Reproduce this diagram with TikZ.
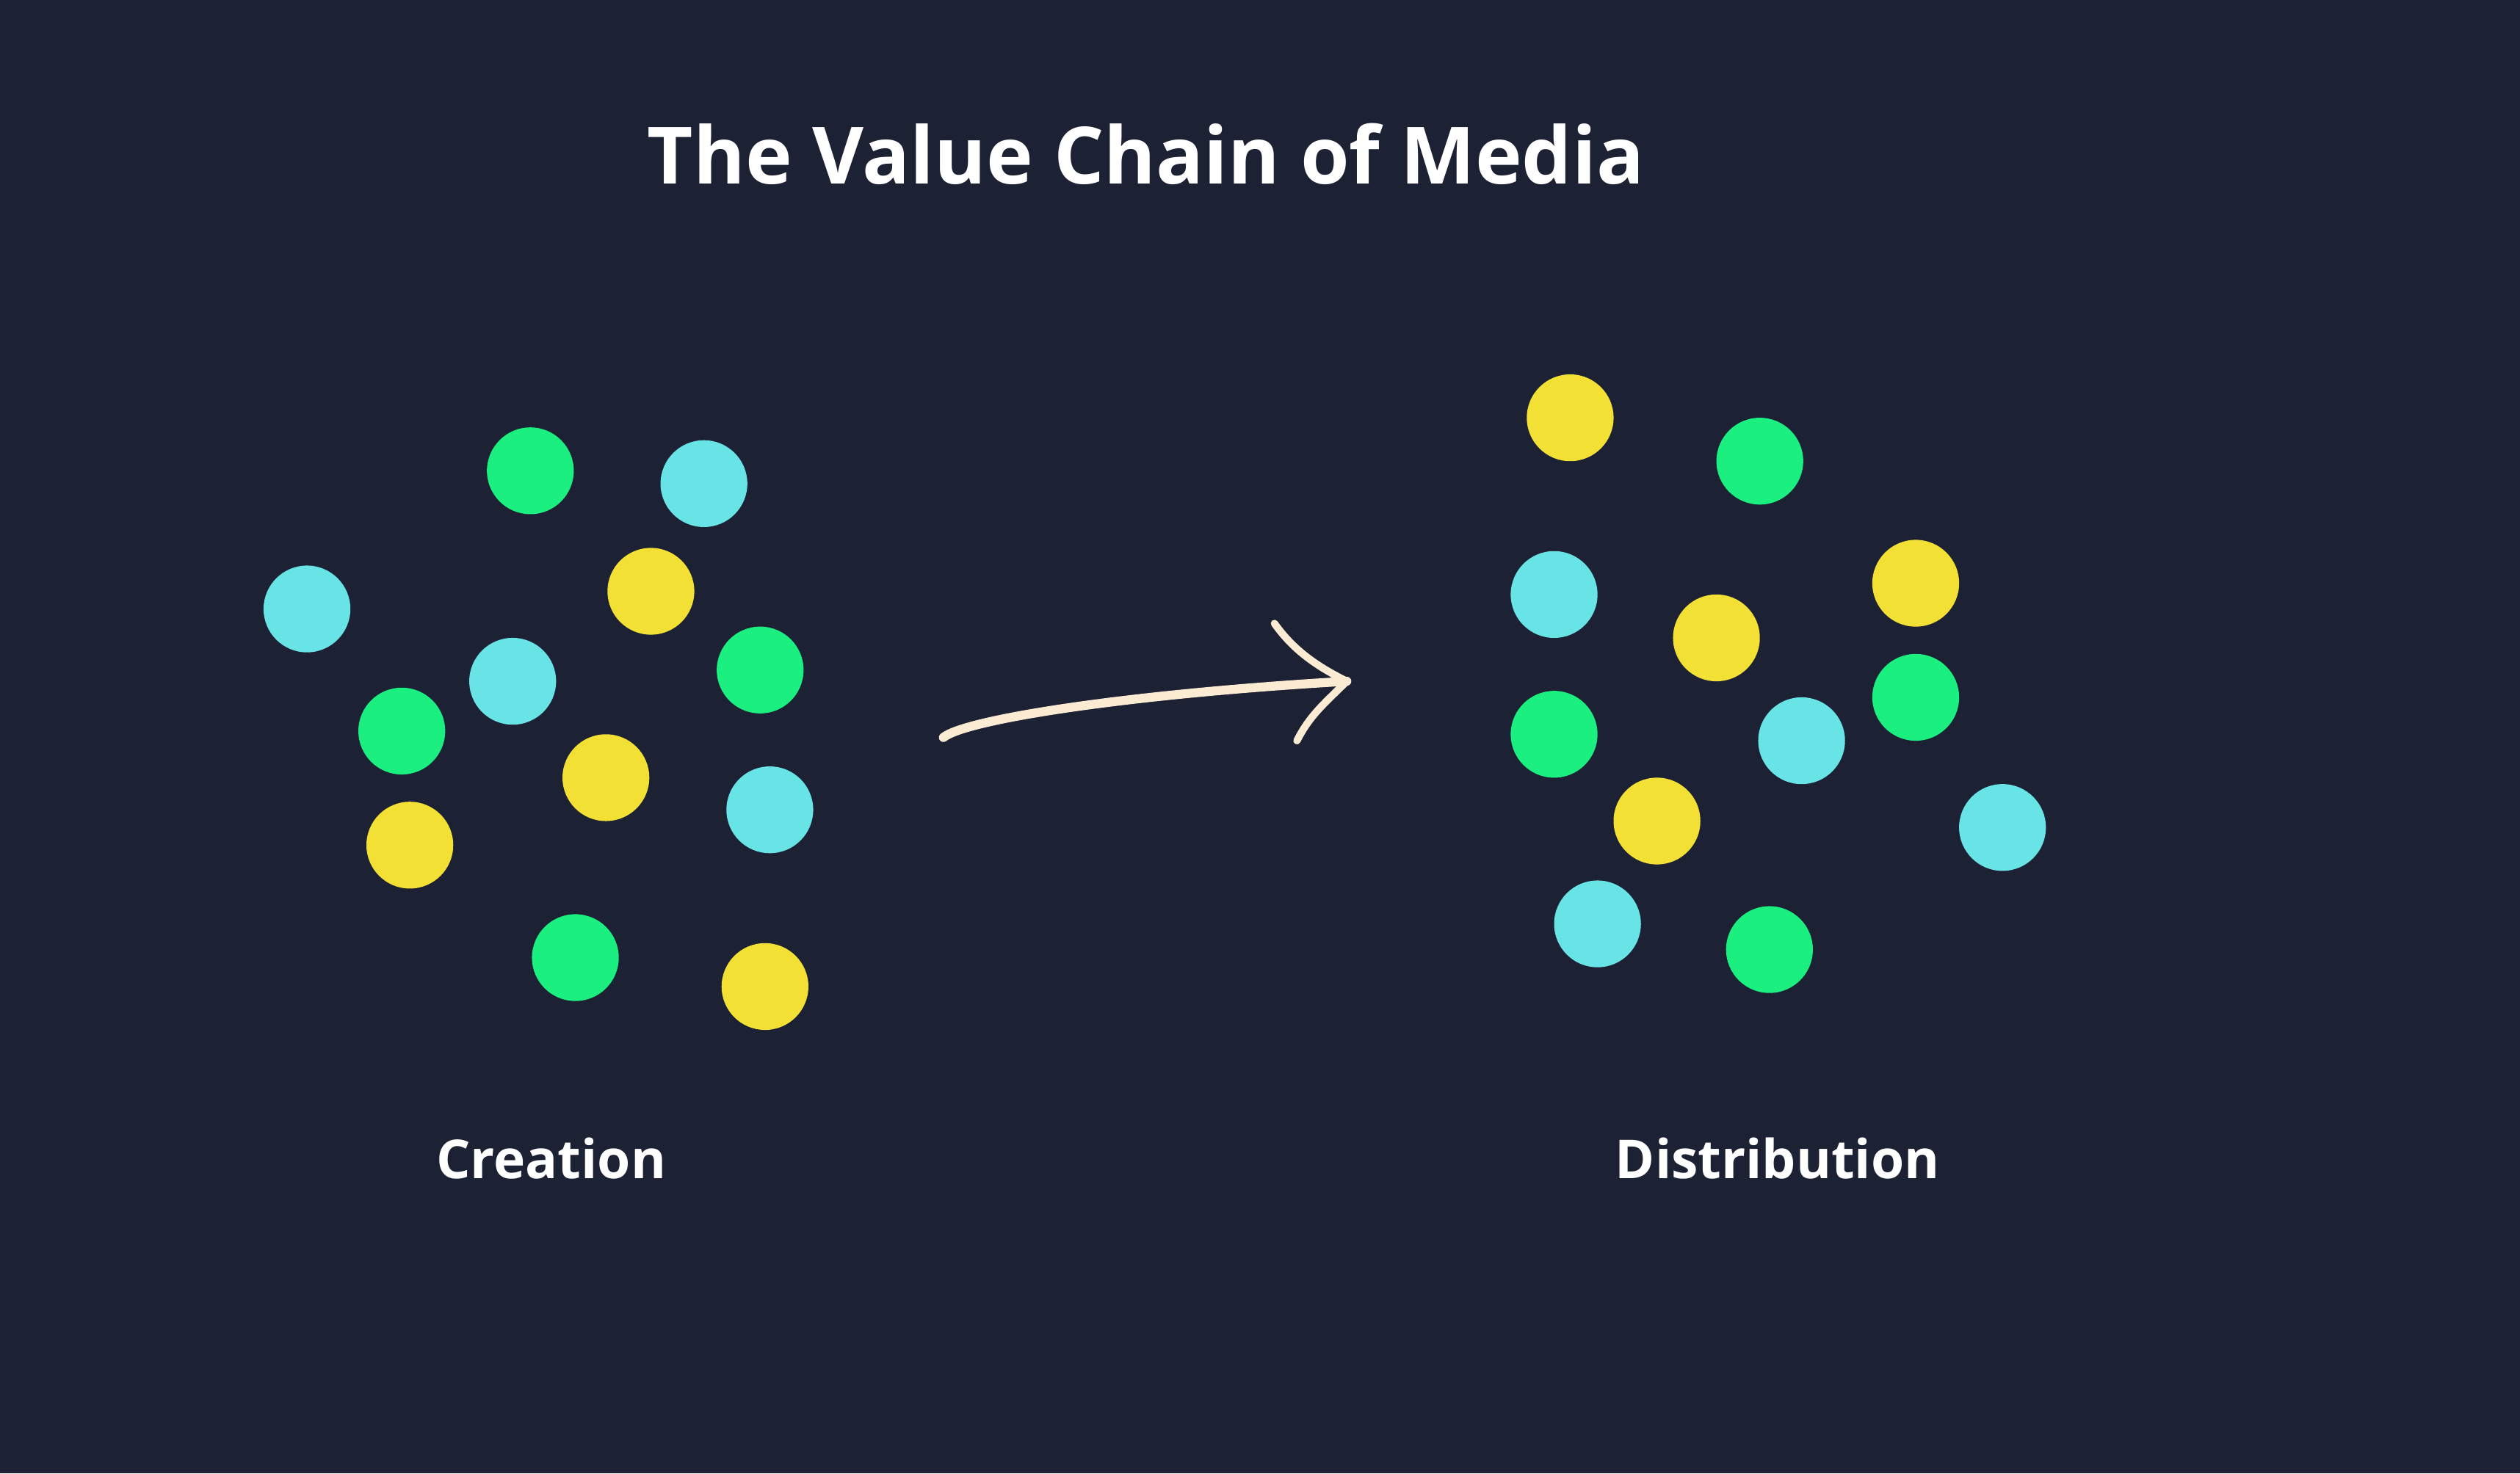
\documentclass[tikz,border=0pt]{standalone}
\usepackage{fontspec}
\setmainfont{Open Sans}
\definecolor{bg}{HTML}{1C2133}
\definecolor{cy}{HTML}{68E3E6}
\definecolor{gr}{HTML}{1BEF80}
\definecolor{ye}{HTML}{F3E035}
\definecolor{cr}{HTML}{FBEBD3}
\begin{document}
\begin{tikzpicture}[x=0.01cm,y=-0.01cm,
  dot/.style={circle,minimum size=0.54cm,inner sep=0pt},
  C/.style={dot,fill=cy}, G/.style={dot,fill=gr}, Y/.style={dot,fill=ye},
  lbl/.style={text=white,font=\bfseries}]
\fill[bg] (0,0) rectangle (1568,917);
\useasboundingbox (0,0) rectangle (1568,917);
\node[lbl,font=\bfseries\fontsize{14}{17}\selectfont] (t) at (713,96) {The Value Chain of Media};
\node[lbl,font=\bfseries\fontsize{9.5}{12}\selectfont] (c) at (343,721) {Creation};
\node[lbl,font=\bfseries\fontsize{9.5}{12}\selectfont] (d) at (1106,721) {Distribution};
% left
\node[G] (l1) at (330,293) {}; \node[C] (l2) at (438,301) {};
\node[C] (l3) at (191,379) {}; \node[Y] (l4) at (405,368) {};
\node[C] (l5) at (319,424) {}; \node[G] (l6) at (473,417) {};
\node[G] (l7) at (250,455) {}; \node[Y] (l8) at (377,484) {};
\node[C] (l9) at (479,504) {}; \node[Y] (l10) at (255,526) {};
\node[G] (l11) at (358,596) {}; \node[Y] (l12) at (476,614) {};
% right
\node[Y] (r1) at (977,260) {}; \node[G] (r2) at (1095,287) {};
\node[C] (r3) at (967,370) {}; \node[Y] (r4) at (1192,363) {};
\node[Y] (r5) at (1068,397) {}; \node[G] (r6) at (967,457) {};
\node[G] (r7) at (1192,434) {}; \node[C] (r8) at (1121,461) {};
\node[Y] (r9) at (1031,511) {}; \node[C] (r10) at (1246,515) {};
\node[C] (r11) at (994,575) {}; \node[G] (r12) at (1101,591) {};
% arrow
\coordinate (a0) at (587,459); \coordinate (a1) at (838,424);
\coordinate (h1) at (793,388); \coordinate (h2) at (807,461);
\draw[cr,line width=1.6pt,line cap=round] (a0) .. controls (600,448) and (700,432) .. (a1);
\draw[cr,line width=1.3pt,line cap=round] (h1) .. controls (805,405) and (820,415) .. (a1);
\draw[cr,line width=1.3pt,line cap=round] (h2) .. controls (815,445) and (825,437) .. (a1);
\end{tikzpicture}
\end{document}
